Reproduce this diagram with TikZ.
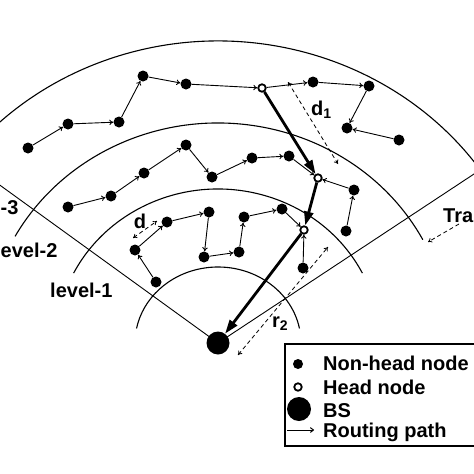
\documentclass[tikz,border=0pt]{standalone}
\usepackage{fontspec}
\setmainfont{Liberation Sans}
\usetikzlibrary{arrows.meta}
\begin{document}
\begin{tikzpicture}[x=1pt,y=1pt,
  nh/.style={circle,fill=black,inner sep=0pt,minimum size=11pt},
  hd/.style={circle,draw=black,fill=white,line width=1.8pt,inner sep=0pt,minimum size=7.5pt},
  bsnode/.style={circle,fill=black,inner sep=0pt,minimum size=23pt},
  link/.style={line width=0.9pt,-{To[length=4pt,width=5.5pt]}},
  route/.style={line width=2.8pt,-{Triangle[length=14pt,width=9pt]}},
  ring/.style={line width=1.1pt},
  meas/.style={line width=0.8pt,dash pattern=on 4pt off 3pt},
  lab/.style={font=\bfseries\fontsize{20}{24}\selectfont,inner sep=0pt},
]
\useasboundingbox (0,0) rectangle (474,-474);
\clip (0,0) rectangle (474,-474);
\fill[white] (0,0) rectangle (474,-474);

\coordinate (o) at (218,-343);
% rings
\draw[ring] (o) ++(11:83pt and 76pt) arc[start angle=11,end angle=169,x radius=83pt,y radius=76pt];
\draw[ring] (o) ++(27:162pt and 154pt) arc[start angle=27,end angle=153,x radius=162pt,y radius=154pt];
\draw[ring] (o) ++(28:232pt and 220pt) arc[start angle=28,end angle=151,x radius=232pt,y radius=220pt];
\draw[ring] (o) ++(20:320pt and 302pt) arc[start angle=20,end angle=165,x radius=320pt,y radius=302pt];
% sector edges
\coordinate (sl) at (-10,-178);
\coordinate (sr) at (484,-167.4);
\draw[line width=0.9pt] (o) -- (sl);
\draw[line width=0.9pt] (o) -- (sr);

% nodes level-3
\node[nh] (a1) at (28,-148) {};
\node[nh] (a2) at (68,-124) {};
\node[nh] (a3) at (119,-122) {};
\node[nh] (a4) at (143,-76) {};
\node[nh] (a5) at (186,-84) {};
\node[hd] (h1) at (262,-88) {};
\node[nh] (a6) at (313,-82) {};
\node[nh] (a7) at (369,-86) {};
\node[nh] (a8) at (347,-128) {};
\node[nh] (a9) at (399,-140) {};
% level-2
\node[nh] (b1) at (68,-207) {};
\node[nh] (b2) at (111,-196) {};
\node[nh] (b3) at (144,-173) {};
\node[nh] (b4) at (186,-145) {};
\node[nh] (b5) at (212,-177) {};
\node[nh] (b6) at (252,-158) {};
\node[nh] (b7) at (289,-156) {};
\node[hd] (h2) at (318,-178) {};
\node[nh] (b8) at (354,-190) {};
\node[nh] (b9) at (346,-231) {};
% level-1
\node[nh] (c1) at (156,-282) {};
\node[nh] (c2) at (135,-250) {};
\node[nh] (c3) at (167,-222) {};
\node[nh] (c4) at (209,-212) {};
\node[nh] (c5) at (204,-257) {};
\node[nh] (c6) at (239,-252) {};
\node[nh] (c7) at (244,-217) {};
\node[nh] (c8) at (282,-209) {};
\node[hd] (h3) at (304,-230) {};
\node[nh] (c9) at (303,-268) {};
\node[bsnode] (bs) at (218,-343) {};

% links
\draw[link] (a1) -- (a2);
\draw[link] (a2) -- (a3);
\draw[link] (a3) -- (a4);
\draw[link] (a4) -- (a5);
\draw[link] (a5) -- (h1);
\draw[link] (h1) -- (a6);
\draw[link] (a6) -- (a7);
\draw[link] (a7) -- (a8);
\draw[link] (a9) -- (a8);

\draw[link] (b1) -- (b2);
\draw[link] (b2) -- (b3);
\draw[link] (b3) -- (b4);
\draw[link] (b4) -- (b5);
\draw[link] (b5) -- (b6);
\draw[link] (b6) -- (b7);
\draw[link] (b7) -- (h2);
\draw[link] (b8) -- (h2);
\draw[link] (b9) -- (b8);

\draw[link] (c1) -- (c2);
\draw[link] (c2) -- (c3);
\draw[link] (c3) -- (c4);
\draw[link] (c4) -- (c5);
\draw[link] (c5) -- (c6);
\draw[link] (c6) -- (c7);
\draw[link] (c7) -- (c8);
\draw[link] (c8) -- (h3);
\draw[link] (c9) -- (h3);

% routing
\draw[route] (h1) -- (h2);
\draw[route] (h2) -- (h3);
\draw[route] (h3) -- (bs);

% measures
\coordinate (d1a) at (288,-82);
\coordinate (d1b) at (338,-164);
\draw[meas,{To[length=4pt,width=5pt]}-{To[length=4pt,width=5pt]}] (d1a) -- (d1b);
\coordinate (da) at (133,-238);
\coordinate (db) at (157,-221);
\draw[meas,{To[length=4pt,width=5pt]}-{To[length=4pt,width=5pt]}] (da) -- (db);
\coordinate (ra) at (238,-355);
\coordinate (rb) at (328,-247);
\draw[meas,{To[length=4pt,width=5pt]}-{To[length=4pt,width=5pt]}] (ra) -- (rb);
\coordinate (ta) at (459,-224);
\coordinate (tb) at (428,-242);
\draw[meas,-{To[length=4pt,width=5pt]}] (ta) -- (tb);

% labels
\node[lab,anchor=base] (ld) at (140,-228) {d};
\node[lab,anchor=base west] (ld1) at (311,-115) {d\textsubscript{1}};
\node[lab,anchor=base west] (lr2) at (272,-327) {r\textsubscript{2}};
\node[lab,anchor=base west] (lv3) at (0.5,-214) {-3};
\node[lab,anchor=base west] (lv2) at (0.5,-257) {evel-2};
\node[lab,anchor=base west] (lv1) at (50,-297) {level-1};
\node[lab,anchor=base west] (ltr) at (443,-222) {Tra};

% legend
\draw[line width=1.3pt,fill=white] (285,-344) rectangle (490,-446);
\node[nh,minimum size=10pt] (k1) at (298,-364) {};
\node[hd] (k2) at (298,-387) {};
\node[bsnode,minimum size=24pt] (k3) at (299,-409) {};
\coordinate (k4a) at (287,-430);
\coordinate (k4b) at (314,-430);
\draw[link,line width=1pt] (k4a) -- (k4b);
\node[lab,anchor=base west] (t1) at (323,-370) {Non-head node};
\node[lab,anchor=base west] (t2) at (323,-394) {Head node};
\node[lab,anchor=base west] (t3) at (323,-417) {BS};
\node[lab,anchor=base west] (t4) at (323,-437) {Routing path};
\end{tikzpicture}
\end{document}
